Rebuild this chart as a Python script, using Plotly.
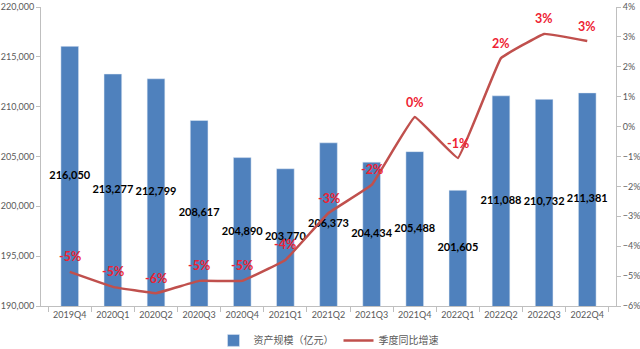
import plotly.graph_objects as go

quarters = ["2019Q4","2020Q1","2020Q2","2020Q3","2020Q4","2021Q1","2021Q2",
            "2021Q3","2021Q4","2022Q1","2022Q2","2022Q3","2022Q4"]
assets = [216050,213277,212799,208617,204890,203770,206373,
          204434,205488,201605,211088,210732,211381]
growth = [-4.86,-5.36,-5.57,-5.16,-5.16,-4.46,-2.89,-1.95,0.32,-1.05,2.29,3.1,2.86]
growth_labels = ["-5%","-5%","-6%","-5%","-5%","-4%","-3%","-2%","0%","-1%","2%","3%","3%"]

Y_MIN, Y_MAX = 190000, 220000

fig = go.Figure()
fig.add_trace(go.Bar(
    x=quarters, y=assets, name="资产规模（亿元）",
    marker=dict(color="#4F81BD"),
))
fig.add_trace(go.Scatter(
    x=quarters, y=growth, name="季度同比增速", yaxis="y2",
    mode="lines", line=dict(color="#C0504D", width=2.5, shape="spline", smoothing=0.2),
))
# bar value labels at mid-height of each bar
fig.add_trace(go.Scatter(
    x=quarters, y=[(Y_MIN + v) / 2 for v in assets], mode="text",
    text=[f"{v:,}" for v in assets], textposition="middle center",
    textfont=dict(color="black", size=11, family="Lato", weight="bold"),
    showlegend=False, hoverinfo="skip", cliponaxis=False,
))
for q, g, lab in zip(quarters, growth, growth_labels):
    fig.add_annotation(x=q, y=g, yref="y2", text=lab, showarrow=False,
                       yshift=15, font=dict(color="#EE2233", size=12.5, family="Lato", weight="bold"))

fig.update_layout(
    width=640, height=349,
    margin=dict(l=41, r=24, t=7, b=43, autoexpand=False),
    plot_bgcolor="white", paper_bgcolor="white",
    bargap=0.59,
    showlegend=True,
    legend=dict(orientation="h", x=0.5, xanchor="center", y=-0.115, yanchor="middle",
                font=dict(size=10, color="#595959", family="Noto Sans CJK SC"),
                traceorder="normal"),
    xaxis=dict(type="category", showline=True, linecolor="#BFBFBF", linewidth=1,
               ticks="outside", tickson="boundaries", ticklen=5, tickcolor="#BFBFBF",
               tickangle=0,
               tickfont=dict(size=9, color="#595959", family="Lato"), showgrid=False),
    yaxis=dict(range=[Y_MIN, Y_MAX], dtick=5000, tickformat=",", showgrid=False,
               showline=True, linecolor="#BFBFBF", ticks="outside", ticklen=4, tickcolor="#BFBFBF",
               tickfont=dict(size=9, color="#595959", family="Lato"), zeroline=False),
    yaxis2=dict(range=[-6, 4], dtick=1, ticksuffix="%", overlaying="y", side="right",
                showgrid=False, showline=True, linecolor="#BFBFBF", ticks="outside", ticklen=4,
                tickcolor="#BFBFBF", zeroline=False,
                tickfont=dict(size=9, color="#595959", family="Lato")),
)

fig.write_html("out.html")
